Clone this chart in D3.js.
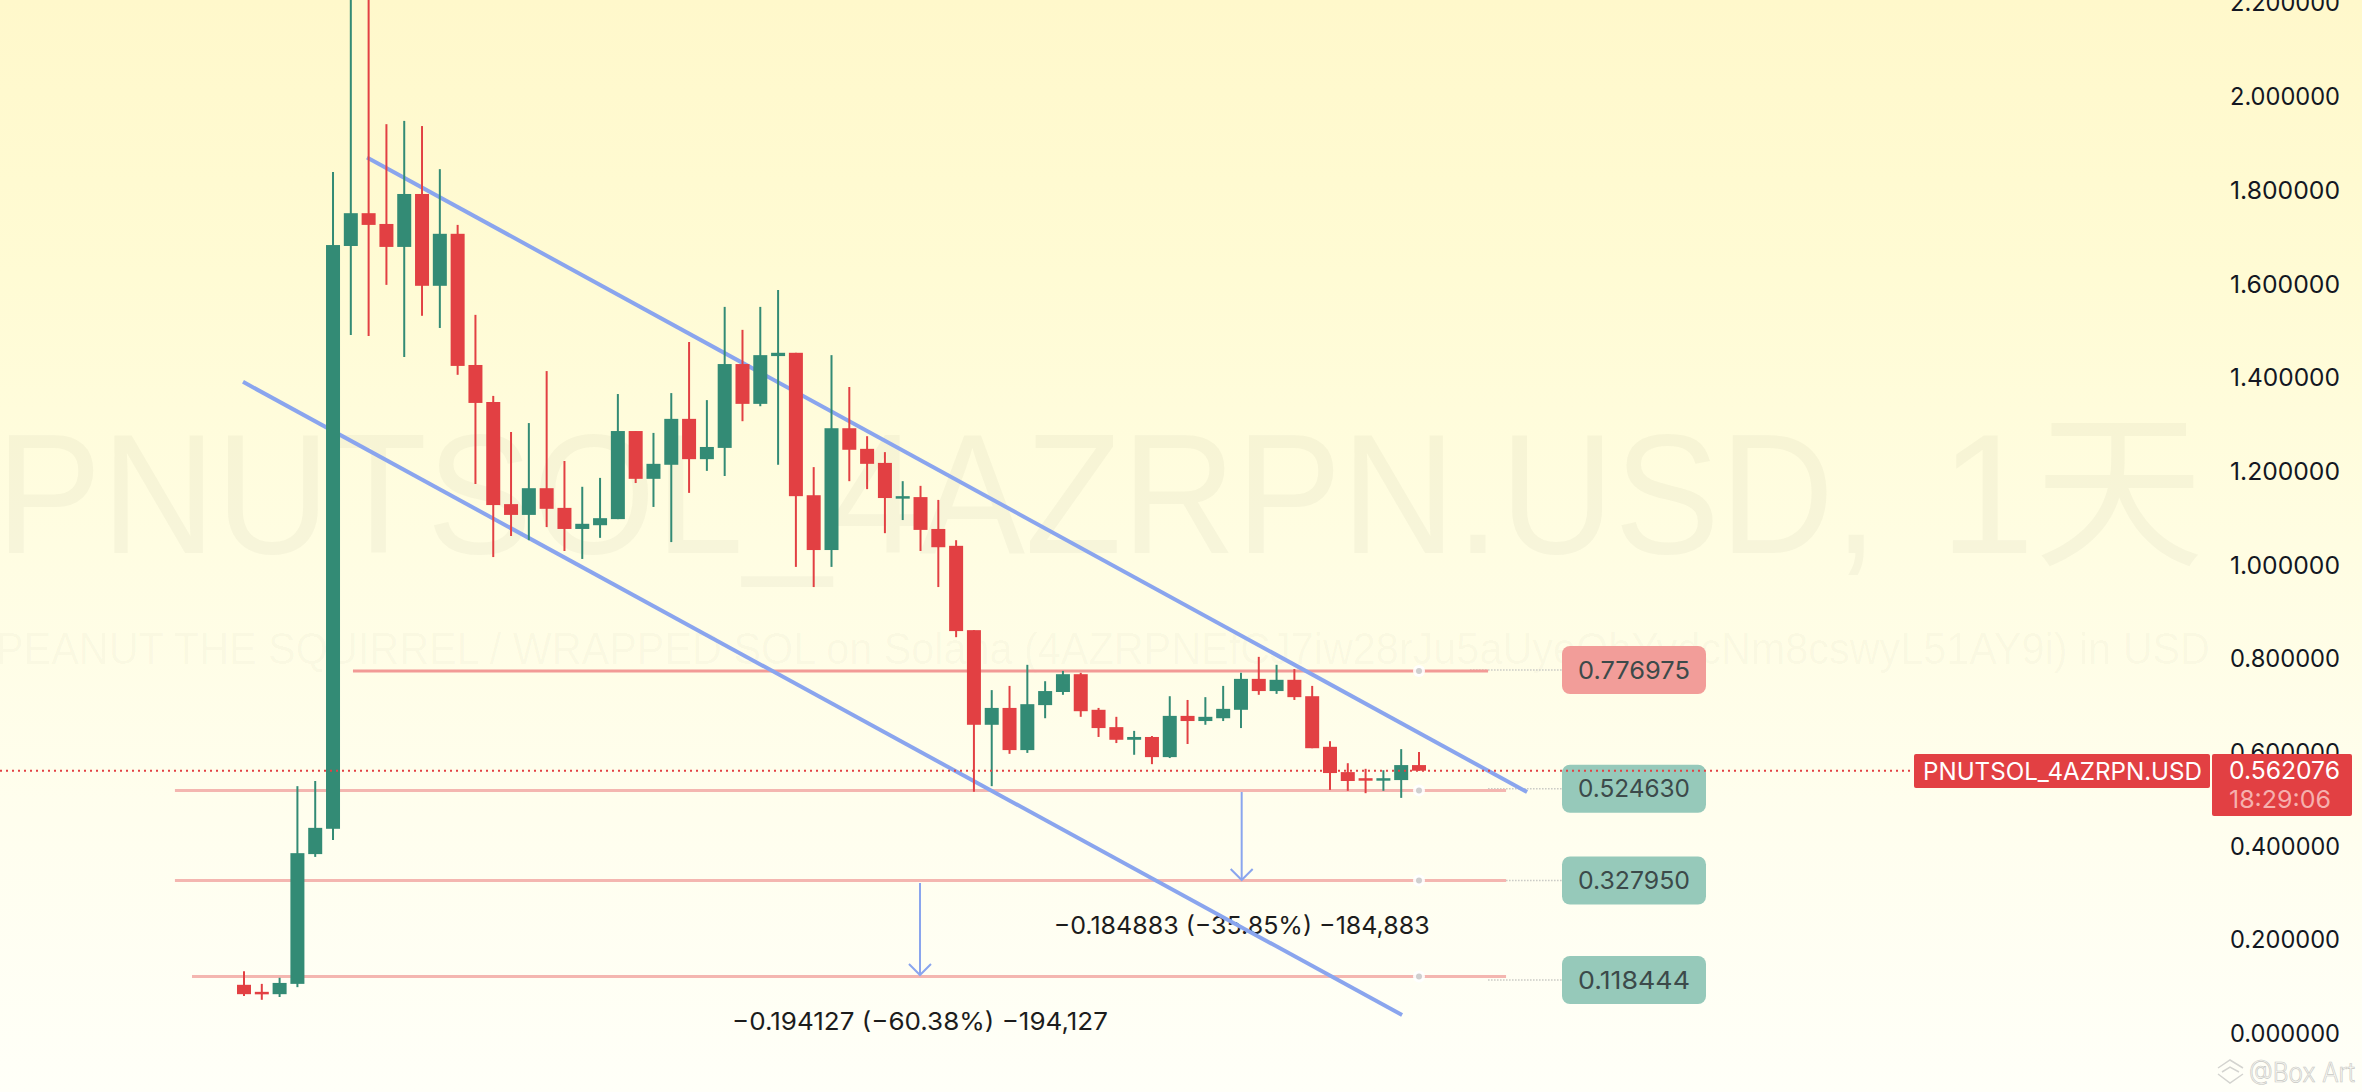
<!DOCTYPE html>
<html><head><meta charset="utf-8">
<script src="https://cdn.jsdelivr.net/npm/d3@7"></script>
<style>html,body{margin:0;padding:0;overflow:hidden;background:#fffff8}svg{display:block}</style>
</head><body><svg id="c" width="2362" height="1092"></svg>
<script>
// Candle values, one entry per day
const opens  = [0.105,0.090,0.085,0.107,0.384,0.438,1.682,1.752,1.729,1.680,1.793,1.597,1.708,1.428,1.349,1.131,1.108,1.165,1.123,1.078,1.086,1.099,1.287,1.185,1.215,1.313,1.227,1.251,1.430,1.345,1.447,1.454,1.150,1.033,1.293,1.249,1.219,1.144,1.146,1.078,1.042,0.862,0.660,0.696,0.606,0.702,0.730,0.768,0.692,0.655,0.628,0.634,0.591,0.679,0.668,0.674,0.692,0.758,0.732,0.756,0.721,0.613,0.559,0.546,0.542,0.542,0.574];
const highs  = [0.134,0.107,0.120,0.529,0.540,1.840,2.350,2.450,1.942,1.949,1.938,1.846,1.727,1.535,1.362,1.285,1.304,1.415,1.223,1.168,1.187,1.366,1.287,1.283,1.368,1.477,1.353,1.552,1.503,1.552,1.588,1.454,1.210,1.449,1.381,1.276,1.242,1.180,1.170,1.140,1.054,0.862,0.734,0.743,0.788,0.753,0.775,0.771,0.696,0.677,0.647,0.636,0.721,0.713,0.719,0.743,0.771,0.805,0.788,0.779,0.743,0.625,0.578,0.566,0.563,0.608,0.602];
const lows   = [0.081,0.073,0.079,0.100,0.378,0.414,1.492,1.490,1.599,1.445,1.533,1.507,1.407,1.174,1.018,1.063,1.054,1.082,1.031,1.014,1.059,1.099,1.176,1.125,1.050,1.155,1.202,1.191,1.308,1.340,1.215,0.997,0.954,0.997,1.180,1.163,1.069,1.097,1.031,0.954,0.847,0.517,0.529,0.598,0.600,0.674,0.724,0.677,0.634,0.621,0.596,0.576,0.589,0.619,0.660,0.668,0.653,0.724,0.726,0.713,0.610,0.521,0.519,0.514,0.519,0.504,0.562];
const closes = [0.085,0.085,0.109,0.386,0.440,1.684,1.752,1.727,1.680,1.793,1.597,1.708,1.426,1.347,1.129,1.108,1.165,1.121,1.078,1.089,1.101,1.287,1.185,1.217,1.313,1.227,1.253,1.430,1.345,1.449,1.454,1.148,1.033,1.293,1.247,1.217,1.144,1.148,1.076,1.039,0.860,0.660,0.696,0.606,0.704,0.732,0.768,0.689,0.653,0.628,0.634,0.591,0.679,0.668,0.677,0.694,0.758,0.732,0.756,0.719,0.610,0.557,0.540,0.542,0.546,0.574,0.562];
const yTicks = [0,0.2,0.4,0.6,0.8,1.0,1.2,1.4,1.6,1.8,2.0,2.2];

// Horizontal levels: drawn price, label, first and last day, label box colour
const levelPrices = [0.775,0.520,0.3276,0.1225];
const levelLabels = ["0.776975","0.524630","0.327950","0.118444"];
const levelLabelPrices = [0.777,0.5235,0.3277,0.1153];
const levelStarts = [6.12,-3.88,-3.88,-2.92];
const levelEnds   = [69.88,70.89,70.89,70.89];
const levelColors = ["#f29a96","#f4b6b0","#f4b6b0","#f4b6b0"];
const labelFills  = ["#f29d99","#96c9ba","#96c9ba","#96c9ba"];
const handleDay = 66;

// Channel lines: [day, price] end points
const upperChannel = [[6.91,1.871],[72.07,0.5165]];
const lowerChannel = [[-0.056,1.392],[65.05,0.0406]];

// Measure arrows
const arrowDays   = [56.04,37.97];
const arrowFrom   = [0.5165,0.3223];
const arrowTo     = [0.3287,0.1259];
const arrowTexts  = ["\u22120.184883 (\u221235.85%) \u2212184,883","\u22120.194127 (\u221260.38%) \u2212194,127"];
const arrowTextPrices = [0.231,0.028];

const lastPrice = 0.562076;
const symbolName = "PNUTSOL_4AZRPN.USD";
const countdown = "18:29:06";
const watermarkLeft = "PNUTSOL_4AZRPN.USD,";
const watermarkRight = "1\u5929";
const subtitle = "PEANUT THE SQUIRREL / WRAPPED SOL on Solana (4AZRPNEfCJ7iw28rJu5aUyeQhYvdcNm8cswyL51AY9i) in USD";
const credit = "@Box Art";

const GREEN="#338b75", RED="#e24043", BLUE="#8aa5ee";
const FONT="Inter,'Liberation Sans',sans-serif";
const svg=d3.select("#c");
const W=2362,H=1092;
const x=d3.scaleLinear().domain([0,66]).range([244,1419]);
const y=d3.scaleLinear().domain([0,2.2]).range([1034,3.3]);

const defs=svg.append("defs");
const g=defs.append("linearGradient").attr("id","bg").attr("x1",0).attr("x2",0).attr("y1",0).attr("y2",1);
[[0,"#fff8cb"],[0.25,"#fffbd4"],[0.5,"#fffde2"],[0.75,"#fffeee"],[1,"#fffff8"]].forEach(s=>g.append("stop").attr("offset",s[0]).attr("stop-color",s[1]));
svg.append("rect").attr("width",W).attr("height",H).attr("fill","url(#bg)");

// watermark
svg.append("text").attr("x",-4).attr("y",553)
  .attr("font-family","'Liberation Sans',sans-serif").attr("font-size",170)
  .attr("textLength",1882).attr("lengthAdjust","spacingAndGlyphs")
  .attr("fill","#6b6b50").attr("fill-opacity",0.05).text(watermarkLeft);
svg.append("text").attr("x",1940).attr("y",553)
  .attr("font-family","'Liberation Sans','Noto Sans CJK SC',sans-serif").attr("font-size",170)
  .attr("textLength",264).attr("lengthAdjust","spacingAndGlyphs")
  .attr("fill","#6b6b50").attr("fill-opacity",0.05).text(watermarkRight);
svg.append("text").attr("x",-4).attr("y",664)
  .attr("font-family","'Liberation Sans',sans-serif").attr("font-size",44)
  .attr("textLength",2214).attr("lengthAdjust","spacingAndGlyphs")
  .attr("fill","#6b6b50").attr("fill-opacity",0.035).text(subtitle);

// level lines
const lv=svg.append("g");
levelPrices.forEach((p,i)=>{
  lv.append("line").attr("x1",x(levelEnds[i])-18).attr("x2",1562).attr("y1",y(levelLabelPrices[i])).attr("y2",y(levelLabelPrices[i]))
    .attr("stroke","#c9c9c4").attr("stroke-width",1.5).attr("stroke-dasharray","1.5 1.5");
  lv.append("line").attr("x1",x(levelStarts[i])).attr("x2",x(levelEnds[i])).attr("y1",y(p)).attr("y2",y(p))
    .attr("stroke",levelColors[i]).attr("stroke-width",3);
});

// measure texts
arrowTexts.forEach((t,i)=>{
  svg.append("text").attr("x",x(arrowDays[i])).attr("y",y(arrowTextPrices[i])).attr("dy","0.36em")
    .attr("text-anchor","middle").attr("font-family",FONT).attr("font-size",24).attr("fill","#1c1c1c")
    .attr("textLength",376).attr("lengthAdjust","spacingAndGlyphs").text(t);
});

// channels
[upperChannel,lowerChannel].forEach(c=>{
  svg.append("line").attr("x1",x(c[0][0])).attr("y1",y(c[0][1])).attr("x2",x(c[1][0])).attr("y2",y(c[1][1]))
    .attr("stroke",BLUE).attr("stroke-width",4);
});

// arrows
arrowDays.forEach((d,i)=>{
  const ax=x(d),y0=y(arrowFrom[i]),y1=y(arrowTo[i]);
  svg.append("line").attr("x1",ax).attr("x2",ax).attr("y1",y0).attr("y2",y1).attr("stroke",BLUE).attr("stroke-width",2);
  svg.append("path").attr("d",`M${ax-11},${y1-11}L${ax},${y1}L${ax+11},${y1-11}`).attr("fill","none").attr("stroke",BLUE).attr("stroke-width",2);
});

// candles
const days=d3.range(opens.length);
const col=i=>closes[i]>=opens[i]?GREEN:RED;
const cg=svg.append("g");
cg.selectAll("line").data(days).join("line")
  .attr("x1",x).attr("x2",x).attr("y1",i=>y(highs[i])).attr("y2",i=>y(lows[i]))
  .attr("stroke",col).attr("stroke-width",2);
cg.selectAll("rect").data(days).join("rect")
  .attr("x",i=>x(i)-7).attr("width",14)
  .attr("y",i=>y(Math.max(opens[i],closes[i])))
  .attr("height",i=>Math.max(2.5,Math.abs(y(opens[i])-y(closes[i]))))
  .attr("fill",col);

// handles on level lines
levelPrices.forEach(p=>{
  svg.append("circle").attr("cx",x(handleDay)).attr("cy",y(p)).attr("r",6).attr("fill","#ffffff").attr("fill-opacity",0.9);
  svg.append("circle").attr("cx",x(handleDay)).attr("cy",y(p)).attr("r",3).attr("fill","#cfcfcf");
});

// level labels
levelLabels.forEach((t,i)=>{
  const cy=y(levelLabelPrices[i]);
  svg.append("rect").attr("x",1562).attr("y",cy-24).attr("width",144).attr("height",48).attr("rx",8).attr("fill",labelFills[i]);
  svg.append("text").attr("x",1634).attr("y",cy).attr("dy","0.36em").attr("text-anchor","middle")
    .attr("font-family",FONT).attr("font-size",24).attr("fill","#3c4a4a")
    .attr("textLength",112).attr("lengthAdjust","spacingAndGlyphs").text(t);
});

// price axis
const axis=d3.axisRight(y).tickValues(yTicks).tickSize(0).tickPadding(0).tickFormat(d3.format(".6f"));
const ax=svg.append("g").attr("transform","translate(2230,0)").call(axis);
ax.select(".domain").remove();
ax.selectAll("text").attr("font-family",FONT).attr("font-size",24).attr("fill","#131722")
  .attr("textLength",110).attr("lengthAdjust","spacingAndGlyphs");

// last price line and tags
svg.append("line").attr("x1",0).attr("x2",1914).attr("y1",y(lastPrice)).attr("y2",y(lastPrice))
  .attr("stroke",RED).attr("stroke-width",2).attr("stroke-dasharray","2 4");
svg.append("rect").attr("x",1914).attr("y",754).attr("width",296).attr("height",34).attr("rx",2).attr("fill",RED);
svg.append("text").attr("x",1923).attr("y",771).attr("dy","0.36em").attr("font-family",FONT).attr("font-size",24).attr("fill","#ffffff")
  .attr("textLength",279).attr("lengthAdjust","spacingAndGlyphs").text(symbolName);
svg.append("rect").attr("x",2212).attr("y",754).attr("width",140).attr("height",62).attr("rx",2).attr("fill",RED);
svg.append("text").attr("x",2229).attr("y",770).attr("dy","0.36em").attr("font-family",FONT).attr("font-size",24).attr("fill","#ffffff")
  .attr("textLength",111).attr("lengthAdjust","spacingAndGlyphs").text(d3.format(".6f")(lastPrice));
svg.append("text").attr("x",2229).attr("y",799).attr("dy","0.36em").attr("font-family",FONT).attr("font-size",24).attr("fill","#f6b0ae")
  .attr("textLength",102).attr("lengthAdjust","spacingAndGlyphs").text(countdown);

// credit mark
const creditG=svg.append("g").attr("fill","none").attr("stroke","#d4d4d0").attr("stroke-width",1.5);
["M2218,1068L2230,1060L2243,1068","M2222,1072L2230,1067L2239,1072","M2218,1074L2230,1083L2243,1074"].forEach(d=>creditG.append("path").attr("d",d));
svg.append("text").attr("x",2249).attr("y",1082).attr("font-family",FONT).attr("font-size",27).attr("font-weight",300)
  .attr("fill","#fbfbf6").attr("stroke","#c8c8c4").attr("stroke-width",0.7)
  .attr("textLength",106).attr("lengthAdjust","spacingAndGlyphs").text(credit);
</script></body></html>
